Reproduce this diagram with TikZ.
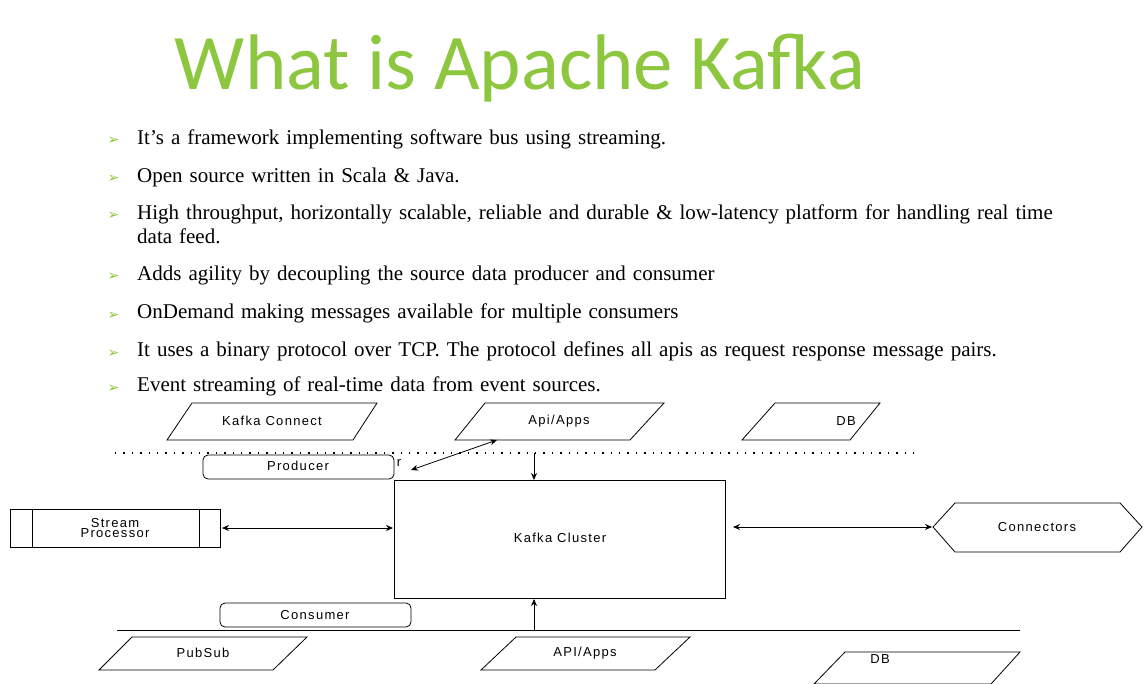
\documentclass[tikz,border=0pt]{standalone}
\usepackage{fontspec}
\setmainfont{Liberation Serif}
\newfontfamily\diafont[LetterSpace=10]{Liberation Sans}
\newfontfamily\titlefont{Carlito}
\newfontfamily\symfont{DejaVu Sans}
\usetikzlibrary{arrows.meta}
\definecolor{kgreen}{HTML}{8DC63F}
\begin{document}
\begin{tikzpicture}[x=1pt,y=-1pt,
  diat/.style={font=\diafont\fontsize{13}{11}\selectfont},
  bul/.style={anchor=north west,font=\fontsize{21}{24}\selectfont,align=left,text width=960pt},
  bmark/.style={anchor=base west,text=kgreen,font=\symfont\fontsize{14}{14}\selectfont},
  ln/.style={draw=black,line width=0.8pt},
  arr/.style={ln,{Stealth[length=7pt,width=6pt]}-{Stealth[length=7pt,width=6pt]}},
  sarr/.style={ln,-{Stealth[length=7pt,width=6pt]}},
  rbox/.style={ln,rounded corners=5pt}]
\useasboundingbox (0,0) rectangle (1147,684);
\fill[white] (0,0) rectangle (1147,684);
\node[text=kgreen,font=\titlefont] (title) at (520,68) {\resizebox{690pt}{!}{What is Apache Kafka}};
\foreach \y/\t [count=\i] in {
 145/{It’s a framework implementing software bus using streaming.},
 183/{Open source written in Scala \& Java.},
 220/{High throughput, horizontally scalable, reliable and durable \& low-latency platform for handling real time\\data feed.},
 281/{Adds agility by decoupling the source data producer and consumer},
 319/{OnDemand making messages available for multiple consumers},
 357/{It uses a binary protocol over TCP. The protocol defines all apis as request response message pairs.},
 392/{Event streaming of real-time data from event sources.}}{
 \node[bmark] (m\i) at (104,\y) {➢};
 \node[bul,inner sep=0pt] (b\i) at (137,\y-15) {\raggedright\t};
}
% top parallelograms
\draw[ln] (192,403) -- (377,403) -- (353,440) -- (167,440) -- cycle;
\node[diat] (kc) at (272,421) {Kafka Connect};
\draw[ln] (485,403) -- (664,403) -- (630,440) -- (455,440) -- cycle;
\node[diat] (api1) at (559,421) {Api/Apps};
\coordinate (apib) at (497,440);
\draw[ln] (775,403) -- (880,403) -- (850,440) -- (742,440) -- cycle;
\node[diat] (db1) at (846,421) {DB};
\draw[ln,line width=1.4pt,dash pattern=on 1.4pt off 7pt] (115,453) -- (915,453);
% producer
\draw[rbox] (203,455) rectangle (394,479);
\node[diat] (prod) at (298,466) {Producer};
\node[diat] (rr) at (399,463) {r};
\coordinate (pend) at (411,470);
\draw[arr] (apib) -- (pend);
% cluster
\draw[ln] (394,480) rectangle (725,598);
\node[diat] (kcl) at (560,538) {Kafka Cluster};
\coordinate (ctop) at (534,480);
\coordinate (ctopa) at (534,453);
\draw[sarr] (ctopa) -- (ctop);
% stream processor
\draw[ln] (10,509) rectangle (220,547);
\draw[ln] (32,509) -- (32,547) (199,509) -- (199,547);
\node[diat,align=center,font=\diafont\fontsize{13}{10}\selectfont] (sp) at (115,528) {Stream\\Processor};
\coordinate (spR) at (222,528);
\coordinate (clL) at (393,528);
\draw[arr] (spR) -- (clL);
% connectors
\draw[ln] (933,527) -- (955,503) -- (1120,503) -- (1142,527) -- (1120,552) -- (955,552) -- cycle;
\node[diat] (con) at (1037,527) {Connectors};
\coordinate (clR) at (733,527);
\coordinate (coL) at (932,527);
\draw[arr] (clR) -- (coL);
% consumer
\draw[rbox] (220,603) rectangle (411,627);
\node[diat] (cons) at (315,615) {Consumer};
\draw[ln] (117,630) -- (1020,630);
\coordinate (lb) at (534,630);
\coordinate (cb) at (534,599);
\draw[sarr] (lb) -- (cb);
% bottom parallelograms
\draw[ln] (132,637) -- (307,637) -- (273,670) -- (99,670) -- cycle;
\node[diat] (ps) at (203,653) {PubSub};
\draw[ln] (516,637) -- (690,637) -- (655,670) -- (481,670) -- cycle;
\node[diat] (api2) at (585,653) {API/Apps};
\draw[ln] (845,652) -- (1020,652) -- (991,684) -- (814,684) -- cycle;
\node[diat] (db2) at (880,659) {DB};
\end{tikzpicture}
\end{document}
